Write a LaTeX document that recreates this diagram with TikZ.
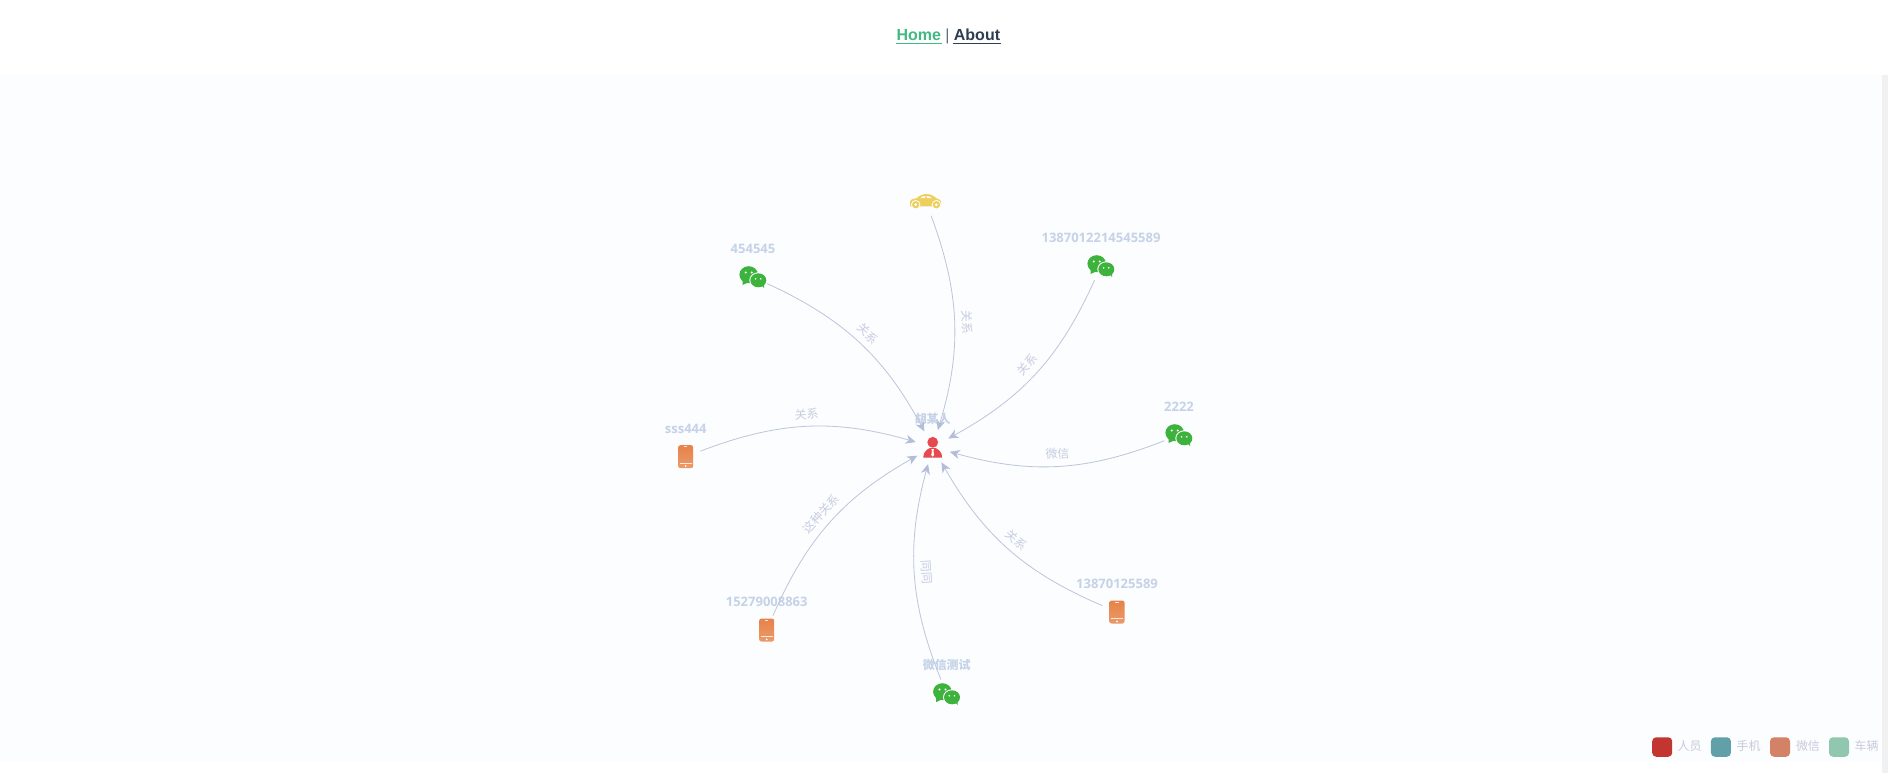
\documentclass[tikz,border=0pt]{standalone}
\usepackage{fontspec}
\setmainfont{Liberation Sans}
\newfontfamily\cnfont{Noto Sans CJK SC}
\newfontfamily\numfont{Open Sans}
\usetikzlibrary{arrows.meta}
\definecolor{panelbg}{HTML}{FBFDFE}
\definecolor{stripbg}{HTML}{F1F1F1}
\definecolor{linkcol}{HTML}{BCC5DB}
\definecolor{tipcol}{HTML}{B4BDD8}
\definecolor{edgetext}{HTML}{C6CEE0}
\definecolor{nametext}{HTML}{C6D2E8}
\definecolor{legendtext}{HTML}{C6CBDA}
\definecolor{homecol}{HTML}{42B983}
\definecolor{aboutcol}{HTML}{2C3E50}
\definecolor{wxgreen}{HTML}{3DB33D}
\definecolor{personred}{HTML}{E8494F}
\definecolor{caryellow}{HTML}{EDCF5E}
\definecolor{phonetop}{HTML}{E6824A}
\definecolor{phonebot}{HTML}{EC9A68}
\definecolor{legred}{HTML}{C23531}
\definecolor{legteal}{HTML}{61A0A8}
\definecolor{legorange}{HTML}{D48265}
\definecolor{leggreen}{HTML}{91C7AE}
\tikzset{
  wechat/.pic={
    \fill[wxgreen] (-4.3,-2.3) ellipse[x radius=9.3,y radius=8.5];
    \fill[wxgreen] (-10.5,3) -- (-10.5,8) -- (-5,5.5) -- cycle;
    \fill[white] (5.3,3.3) ellipse[x radius=9,y radius=8];
    \fill[wxgreen] (5.3,3.3) ellipse[x radius=8,y radius=7];
    \fill[wxgreen] (8,8) -- (11,11) -- (11,6.5) -- cycle;
    \fill[white] (-7.3,-4.5) circle[radius=1.1] (-1.3,-4.5) circle[radius=1.1];
    \fill[white] (2.6,1.8) circle[radius=.9] (7.8,1.8) circle[radius=.9];
  },
  mobile/.pic={
    \shade[top color=phonetop,bottom color=phonebot,rounded corners=.022cm]
      (-7.5,-11.5) rectangle (7.5,11.5);
    \fill[white,opacity=.8] (-1.6,-10.4) rectangle (1.6,-9.6);
    \fill[white,opacity=.8] (-6,6.2) rectangle (6,6.9);
    \fill[white] (0,9.3) circle[radius=1];
  },
  person/.pic={
    \fill[personred] (0,-4.7) circle[radius=5.4];
    \fill[personred] (-9.5,10.7) .. controls (-9.5,4.5) and (-5,2) .. (-3,1.2)
      -- (3,1.2) .. controls (5,2) and (9.5,4.5) .. (9.5,10.7) -- cycle;
    \fill[white] (-1.3,2) -- (1.3,2) -- (.7,4) -- (1.5,8) -- (0,9.6) -- (-1.5,8) -- (-.7,4) -- cycle;
  },
  sedan/.pic={
    \fill[caryellow] (-15.5,3) .. controls (-16,-1) and (-15,-2) .. (-9,-2.8)
      .. controls (-6,-6) and (-2,-7) .. (1,-7)
      .. controls (6,-7) and (9,-4) .. (11,-2.6)
      .. controls (14,-2) and (15.5,-1) .. (15.5,3) -- (15.5,5.5) -- (-15.5,5.5) -- cycle;
    \fill[white] (-5.5,-2.8) .. controls (-4,-4.4) and (-2,-5) .. (-.5,-5) -- (-.5,-2.8) -- cycle;
    \fill[white] (1,-5) .. controls (3,-5) and (5,-4) .. (6.5,-2.8) -- (1,-2.8) -- cycle;
    \foreach \wx in {-10,10.7} {
      \fill[white] (\wx,3.7) circle[radius=4.7];
      \fill[caryellow] (\wx,3.7) circle[radius=3.7];
      \fill[white] (\wx,3.7) circle[radius=1.5];
    }
  },
  item/.style={circle,minimum size=.3cm,inner sep=0,
    label={[nametag,yshift=.07cm]above:#1}},
  itemcn/.style={circle,minimum size=.3cm,inner sep=0,
    label={[nametag,yshift=.085cm]above:#1}},
  hub/.style={circle,minimum size=.34cm,inner sep=0,
    label={[nametag,yshift=.055cm]above:#1}},
  nametag/.style={text=nametext,inner sep=0,text depth=0pt,font=\fontsize{3.7}{4.4}\selectfont\numfont\bfseries},
  link/.style={draw=linkcol,line width=.008cm,bend left=18.5,
    -{Stealth[length=.1cm,width=.09cm,inset=.03cm,color=tipcol]}},
  linktext/.style={text=edgetext,sloped,above,inner sep=0,yshift=.065cm,
    font=\fontsize{3.4}{4}\selectfont\cnfont},
  legendbox/.style={fill=#1,rounded corners=.04cm,minimum width=.2cm,minimum height=.195cm,inner sep=0},
  legendtag/.style={text=legendtext,inner sep=0,font=\fontsize{3.4}{4}\selectfont\cnfont},
  navlink/.style={inner sep=0,anchor=base west,font=\fontsize{4.55}{5.4}\selectfont\bfseries},
  navrule/.style={line width=.014cm},
}
\newcommand{\cnname}{\fontsize{3.4}{4}\selectfont\cnfont\bfseries}
\begin{document}
\begin{tikzpicture}[x=.01cm,y=-.01cm]
  \useasboundingbox (0,0) rectangle (1888,773);
  % page
  \fill[white] (0,0) rectangle (1888,773);
  \fill[panelbg] (0,75) rectangle (1882,762);
  \fill[stripbg] (1882,75) rectangle (1888,773);
  % header
  \node[navlink,text=homecol] (home) at (895.8,40.5) {Home};
  \node[navlink,text=aboutcol!75,font=\fontsize{4.55}{5.4}\selectfont] (bar) at (944.7,40.5) {|};
  \node[navlink,text=aboutcol] (about) at (953.2,40.5) {About};
  \draw[navrule,homecol] ([yshift=-.03cm]home.base west) -- ([yshift=-.03cm]home.base east);
  \draw[navrule,aboutcol] ([yshift=-.03cm]about.base west) -- ([yshift=-.03cm]about.base east);

  % graph nodes
  \node[hub={\cnname 胡某人}] (boss) at (932.7,447) {};
  \node[item={}] (car) at (925.7,201) {};
  \node[item={1387012214545589}] (wxa) at (1101,266) {};
  \node[item={2222}] (wxb) at (1179,435) {};
  \node[item={13870125589}] (telc) at (1117,612) {};
  \node[itemcn={\cnname 微信测试}] (wxd) at (946.7,694) {};
  \node[item={15279008863}] (tele) at (766.7,630) {};
  \node[item={sss444}] (telf) at (685.7,456.7) {};
  \node[item={454545}] (wxg) at (753,277) {};

  % links
  \draw[link] (car) to node[linktext]{关系} (boss);
  \draw[link] (wxa) to node[linktext]{关系} (boss);
  \draw[link] (wxb) to node[linktext]{微信} (boss);
  \draw[link] (telc) to node[linktext]{关系} (boss);
  \draw[link] (wxd) to node[linktext]{同同} (boss);
  \draw[link] (tele) to node[linktext]{这种关系} (boss);
  \draw[link] (telf) to node[linktext]{关系} (boss);
  \draw[link] (wxg) to node[linktext]{关系} (boss);

  % icons
  \pic at (boss) {person};
  \pic at (car) {sedan};
  \foreach \who in {wxa,wxb,wxd,wxg} \pic at (\who) {wechat};
  \foreach \who in {telc,tele,telf} \pic at (\who) {mobile};

  % legend
  \node[legendbox=legred] (lega) at (1662.2,747) {};
  \node[legendbox=legteal] (legb) at (1720.9,747) {};
  \node[legendbox=legorange] (legc) at (1780,747) {};
  \node[legendbox=leggreen] (legd) at (1839,747) {};
  \node[legendtag,anchor=west] at (1677,746) {人员};
  \node[legendtag,anchor=west] at (1736,746) {手机};
  \node[legendtag,anchor=west] at (1795.3,746) {微信};
  \node[legendtag,anchor=west] at (1854,746) {车辆};
\end{tikzpicture}
\end{document}
